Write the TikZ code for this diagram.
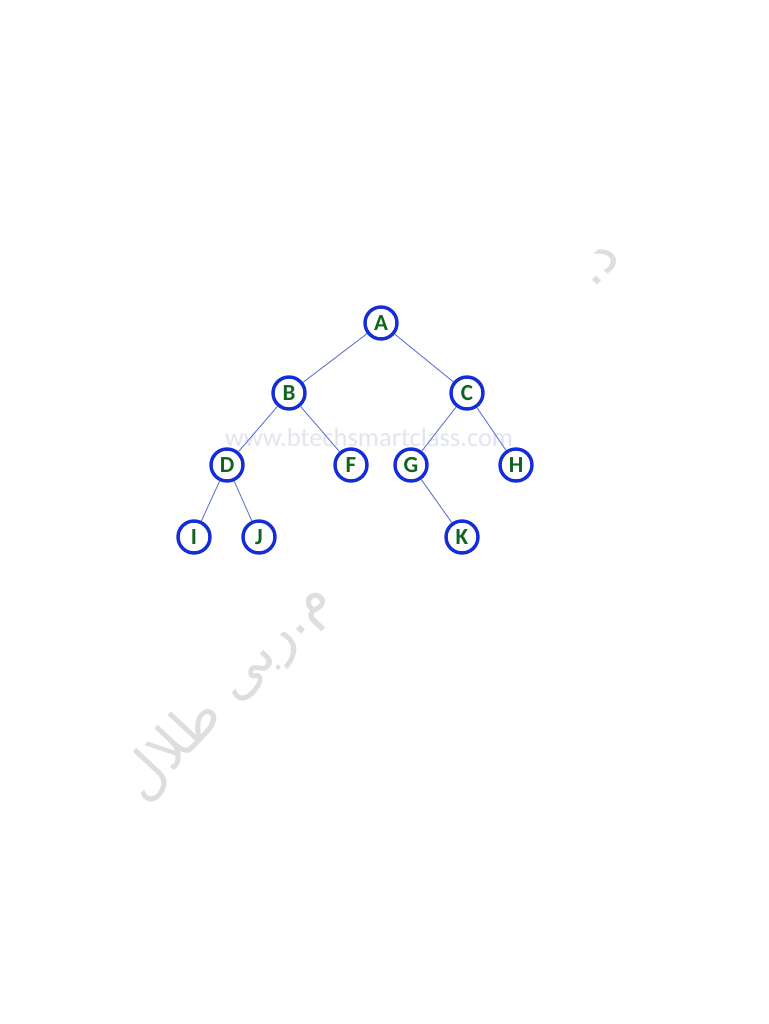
\documentclass[tikz,border=0pt]{standalone}
\usepackage{fontspec}
\setmainfont{Carlito}
\newfontfamily\arabicfont[Script=Arabic]{DejaVu Sans}
\TeXXeTstate=1
\definecolor{ringblue}{RGB}{20,45,215}
\definecolor{edgeblue}{RGB}{95,115,215}
\definecolor{labgreen}{RGB}{15,100,30}
\definecolor{wmgray}{RGB}{228,228,240}
\definecolor{argray}{RGB}{222,222,222}
\begin{document}
\begin{tikzpicture}[x=1pt,y=-1pt,
  tnode/.style={circle,draw=ringblue,line width=3.4pt,fill=white,minimum size=32pt,inner sep=0pt,
    text=labgreen,font=\fontsize{23}{23}\selectfont\bfseries},
  tedge/.style={draw=edgeblue,line width=0.9pt}]
\useasboundingbox (0,0) rectangle (768,1024);
\fill[white] (0,0) rectangle (768,1024);
% watermarks
\node[text=wmgray,font=\fontsize{26.5}{26.5}\selectfont] (wm) at (369,437) {www.btechsmartclass.com};
\node[text=argray,rotate=47,font=\fontsize{56}{56}\selectfont\arabicfont] (ar1) at (228,692) {\beginR م.ربى طلال\endR};
\node[text=argray,rotate=47,font=\fontsize{56}{56}\selectfont\arabicfont] (ar2) at (600,266) {\beginR د.\endR};
% nodes
\node[tnode] (A) at (381,323) {A};
\node[tnode] (B) at (289,393) {B};
\node[tnode] (C) at (467,393) {C};
\node[tnode] (D) at (227,465) {D};
\node[tnode] (F) at (351,465) {F};
\node[tnode] (G) at (411,465) {G};
\node[tnode] (H) at (516,465) {H};
\node[tnode] (I) at (194,537) {I};
\node[tnode] (J) at (259,537) {J};
\node[tnode] (K) at (462,537) {K};
% edges
\draw[tedge] (A) -- (B);
\draw[tedge] (A) -- (C);
\draw[tedge] (B) -- (D);
\draw[tedge] (B) -- (F);
\draw[tedge] (C) -- (G);
\draw[tedge] (C) -- (H);
\draw[tedge] (D) -- (I);
\draw[tedge] (D) -- (J);
\draw[tedge] (G) -- (K);
\end{tikzpicture}
\end{document}
